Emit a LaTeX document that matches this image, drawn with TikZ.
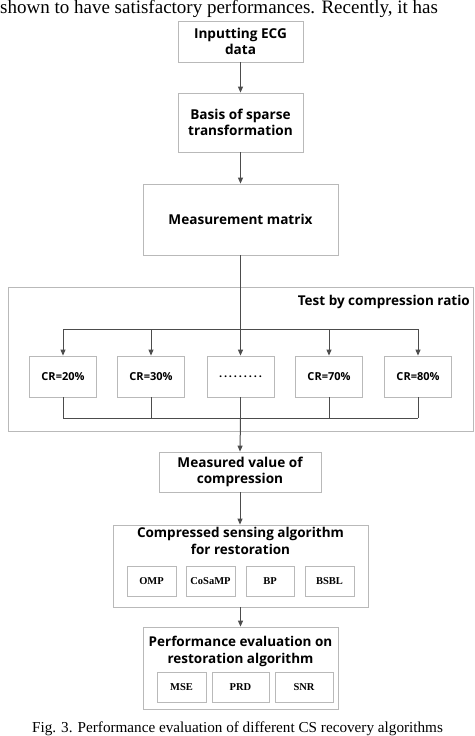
\documentclass[tikz,border=0pt]{standalone}
\usepackage{fontspec}
\usepackage{tikz}
\usetikzlibrary{arrows.meta}
\setmainfont{Liberation Serif}
\newfontfamily\flowfont{Open Sans}
\newcommand\crdots{\raisebox{0.5pt}{.\,.\,.\,.\,.\,.\,.\,.\,.}}

\begin{document}
\begin{tikzpicture}[x=1pt,y=-1pt,
    box/.style={draw=gray!55,line width=0.8pt,fill=white,align=center,
      font=\flowfont\bfseries\fontsize{13.6}{16.5}\selectfont,inner sep=0pt},
    algbox/.style={draw=gray!55,line width=0.8pt,fill=white,
      font=\bfseries\fontsize{10.5}{12}\selectfont,inner sep=0pt,
      minimum height=30pt},
    crbox/.style={box,minimum width=67pt,minimum height=41pt,
      font=\flowfont\bfseries\fontsize{11}{13}\selectfont},
    title/.style={font=\flowfont\bfseries\fontsize{13.5}{16.5}\selectfont,
      align=center,inner sep=0pt},
    flow/.style={draw=gray!60!black,line width=1pt},
    arr/.style={flow,-{Triangle[width=5pt,length=6pt]}}]
    \useasboundingbox (0,0) rectangle (474,736);
    % running text of the page and the caption
    \node (pagetext) [anchor=base west,font=\fontsize{19}{22}\selectfont,inner sep=0pt]
      at (0,13.5) {shown to have satisfactory performances. Recently, it has};
    \node (caption) [anchor=base,font=\fontsize{15.2}{18}\selectfont,inner sep=0pt]
      at (237.5,732) {Fig. 3. Performance evaluation of different CS recovery algorithms};
    % main steps
    \node (input) [box,minimum width=125pt,minimum height=41pt] at (240.5,41.5) {Inputting ECG\\data};
    \node (sparse) [box,minimum width=125pt,minimum height=59pt] at (240.5,122.5) {Basis of sparse\\transformation};
    \node (meas) [box,minimum width=195pt,minimum height=71pt] at (240.5,219.5) {Measurement matrix};
    % test frame
    \node (test) [box,minimum width=465pt,minimum height=144pt] at (240.5,359) {};
    \node (testtitle) [title,anchor=east] at (470,302) {Test by compression ratio};
    \foreach \x/\name/\txt in {63/cra/CR=20\%,151/crb/CR=30\%,240.5/crc/\crdots,329/crd/CR=70\%,418/cre/CR=80\%}{
      \node (\name) [crbox] at (\x,376.5) {\txt};
    }
    \coordinate (split) at (240.5,329);
    \coordinate (join) at (240.5,418);
    \draw[flow] (meas.south) -- (split);
    \draw[flow] (cra.north |- split) -- (cre.north |- split);
    \foreach \name in {cra,crb,crc,crd,cre}{
      \draw[arr] (\name.north |- split) -- (\name.north);
      \draw[flow] (\name.south) -- (\name.south |- join);
    }
    \draw[flow] (cra.south |- join) -- (cre.south |- join);
    % measured value and restoration
    \node (value) [box,minimum width=162pt,minimum height=40pt] at (240,472) {Measured value of\\compression};
    \node (cs) [box,minimum width=255pt,minimum height=82pt] at (240.5,566) {};
    \node (cstitle) [title] at (240.5,541) {Compressed sensing algorithm\\for restoration};
    \node (omp) [algbox,minimum width=49pt] at (151.5,581) {OMP};
    \node (cosamp) [algbox,minimum width=49pt] at (210.5,581) {CoSaMP};
    \node (bp) [algbox,minimum width=48pt] at (270,581) {BP};
    \node (bsbl) [algbox,minimum width=49pt] at (329.5,581) {BSBL};
    % evaluation
    \node (perf) [box,minimum width=195pt,minimum height=82pt] at (240.5,668) {};
    \node (perftitle) [title] at (240.5,651.5) {Performance evaluation on\\restoration algorithm};
    \node (mse) [algbox,minimum width=49pt] at (181.5,687.5) {MSE};
    \node (prd) [algbox,minimum width=57pt] at (240.5,687.5) {PRD};
    \node (snr) [algbox,minimum width=58pt] at (304,687.5) {SNR};
    % arrows
    \draw[arr] (input) -- (sparse);
    \draw[arr] (sparse) -- (meas);
    \draw[arr] (join) -- (value.north);
    \draw[arr] (value) -- (cs.north -| value);
    \draw[arr] (cs) -- (perf);
  \end{tikzpicture}
\end{document}
